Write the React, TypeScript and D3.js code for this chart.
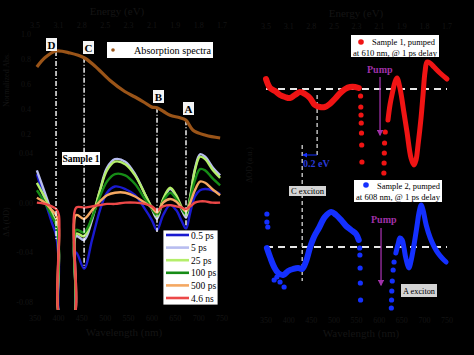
import React from 'react';
import * as d3 from 'd3';

const W = 474, H = 355;

// ---------- Left panel data ----------
const wlTicks = [350, 400, 450, 500, 550, 600, 650, 700, 750];
const evTickLabels = ['3.5', '3.1', '2.8', '2.5', '2.3', '2.1', '1.9', '1.8', '1.7'];
const absTicks = [0.2, 0.4, 0.6, 0.8, 1.0];
const daTicks = [0.04, 0.0, -0.04, -0.08];

const absWl = [354, 371, 395, 425, 455, 478, 510, 542, 564, 585, 600, 611, 625, 639, 660, 673, 688, 715, 746];
const absVal = [0.736, 0.81, 0.864, 0.848, 0.81, 0.744, 0.63, 0.54, 0.496, 0.45, 0.415, 0.41, 0.38, 0.35, 0.33, 0.31, 0.23, 0.19, 0.168];

const excitonLabels = ['D', 'C', 'B', 'A'];
const excitonWl = [395, 455, 611, 673];

const taWl = [354, 371, 386, 395, 401, 406, 431, 438, 455, 472, 489, 504, 521, 543, 564, 585, 600, 611, 624, 639, 652, 664, 673, 682, 692, 703, 714, 729, 746];
const delays = ['0.5 ps', '5 ps', '25 ps', '100 ps', '500 ps', '4.6 ns'];
const delayColors = ['#1a1ad0', '#b8bdf0', '#b4ee6a', '#168c16', '#f4a862', '#ec4848'];
const ta05 = [0.023, 0.002, -0.016, -0.026, -0.048, -0.095, -0.095, -0.040, -0.053, -0.030, -0.006, 0.008, 0.013, 0.011, 0.006, -0.005, -0.014, -0.022, -0.010, -0.002, -0.006, -0.015, -0.021, -0.008, 0.005, 0.010, 0.011, 0.010, 0.007];
const ta5 = [0.026, 0.008, -0.008, -0.017, -0.040, -0.095, -0.095, -0.027, -0.030, -0.014, 0.010, 0.028, 0.035, 0.033, 0.023, 0.007, -0.005, -0.013, 0.002, 0.011, 0.005, -0.006, -0.012, 0.004, 0.027, 0.039, 0.037, 0.029, 0.022];
const ta25 = [0.016, 0.004, -0.009, -0.017, -0.038, -0.095, -0.095, -0.025, -0.027, -0.012, 0.010, 0.026, 0.033, 0.031, 0.022, 0.007, -0.004, -0.011, 0.003, 0.012, 0.006, -0.004, -0.010, 0.005, 0.026, 0.037, 0.035, 0.027, 0.020];
const ta100 = [0.010, 0.000, -0.011, -0.018, -0.036, -0.095, -0.095, -0.022, -0.024, -0.012, 0.005, 0.017, 0.023, 0.022, 0.015, 0.003, -0.005, -0.010, 0.001, 0.008, 0.003, -0.005, -0.009, 0.003, 0.018, 0.027, 0.026, 0.020, 0.014];
const ta500 = [0.004, 0.000, -0.006, -0.010, -0.020, -0.095, -0.095, -0.010, -0.013, -0.006, 0.001, 0.006, 0.008, 0.008, 0.005, 0.000, -0.004, -0.008, 0.000, 0.003, 0.001, -0.004, -0.007, 0.000, 0.010, 0.017, 0.016, 0.011, 0.006];
const ta46 = [0.000, -0.001, -0.003, -0.005, -0.010, -0.095, -0.095, -0.004, -0.004, -0.003, -0.002, -0.001, -0.001, 0.000, 0.000, -0.001, -0.003, -0.006, -0.003, -0.002, -0.003, -0.004, -0.005, -0.003, 0.000, 0.001, 0.001, 0.000, 0.000];
const taSeries = [ta05, ta5, ta25, ta100, ta500, ta46];

// ---------- Right panel data ----------
const s1WlA = [350, 359, 370, 381, 392, 403, 414, 425, 436, 447, 458, 469, 480, 491, 502, 514, 525, 536, 547, 555];
const s1ValA = [0.20, 0.02, -0.04, -0.12, -0.16, -0.18, -0.12, -0.06, -0.10, -0.18, -0.32, -0.36, -0.36, -0.30, -0.20, -0.08, 0.00, 0.04, 0.04, 0.02];
const s1DropWl = [559, 559.5, 560, 560.5, 561, 561.5, 562];
const s1DropVal = [-0.14, -0.36, -0.52, -0.68, -0.88, -1.12, -1.46];
const s1RiseWl = [610.5, 611, 611.5, 612, 613.5];
const s1RiseVal = [-1.68, -1.48, -1.28, -1.08, -0.86];
const s1WlB = [619.6, 624, 630.7, 635, 639.5, 646, 655, 661.6, 670.5, 677, 681.5, 686, 692.6, 697, 701.4, 706, 712.4, 721.3, 734.5, 750];
const s1ValB = [-0.62, -0.32, -0.02, 0.14, 0.22, 0.02, -0.48, -0.86, -1.38, -1.52, -1.42, -1.12, -0.58, -0.12, 0.34, 0.54, 0.52, 0.44, 0.32, 0.20];

const s2ScatterWl = [352, 352, 354, 368, 390, 374, 381];
const s2ScatterVal = [0.66, 0.50, 0.40, -0.66, -0.80, -0.60, -0.70];
const s2WlA = [352, 359, 368, 377, 388, 399, 410, 421, 430, 438, 447, 456, 467, 480, 494, 505, 516, 527, 538, 549, 555];
const s2ValA = [-0.02, -0.20, -0.40, -0.52, -0.56, -0.48, -0.44, -0.42, -0.44, -0.30, -0.02, 0.20, 0.38, 0.60, 0.70, 0.64, 0.54, 0.42, 0.34, 0.26, 0.14];
const s2DropWl = [557, 557.5, 558, 558.5, 559];
const s2DropVal = [-0.02, -0.16, -0.42, -0.72, -1.06];
const s2RiseWl = [627, 627.5, 628, 629, 631, 633];
const s2RiseVal = [-1.22, -1.06, -0.88, -0.68, -0.46, -0.30];
const s2WlB = [637, 642, 646, 651, 655, 659, 666, 670, 677, 684, 688, 693, 697, 704, 713, 722, 730, 739, 748];
const s2ValB = [-0.12, 0.06, 0.18, 0.14, -0.02, -0.22, -0.42, -0.30, 0.04, 0.44, 0.68, 0.84, 0.74, 0.44, 0.18, 0.00, -0.12, -0.22, -0.30];

const pumpWl = 602;
const cExcWl = 430;
const cShiftWl = 463;

const FONT = 'Liberation Serif, Times New Roman, serif';
const DARK = '#141414';

export default function App() {
  const xL = d3.scaleLinear().domain([350, 750]).range([35, 222]);
  const yAbs = d3.scaleLinear().domain([0.2, 1.0]).range([134, 34]);
  const yDA = d3.scaleLinear().domain([-0.08, 0.04]).range([302, 153]);
  const xR = d3.scaleLinear().domain([350, 750]).range([266, 447]);
  const yR1 = d3.scaleLinear().domain([-1, 1]).range([139, 39]);
  const yR2 = d3.scaleLinear().domain([-1, 1]).range([297, 197]);

  const absLine = d3.line<number>().x((_, i) => xL(absWl[i])).y(d => yAbs(d)).curve(d3.curveCatmullRom);
  const taLine = d3.line<number>().x((_, i) => xL(taWl[i])).y(d => yDA(d)).curve(d3.curveCatmullRom);
  const mk = (wl: number[], y: d3.ScaleLinear<number, number>) =>
    d3.line<number>().x((_, i) => xR(wl[i])).y(d => y(d)).curve(d3.curveCatmullRom);

  const red = '#f01414';
  const blue = '#1430ff';
  const purple = '#a030a8';

  return (
    <svg width={W} height={H} style={{ position: 'absolute', left: 0, top: 0 }} fontFamily={FONT}>
      <defs>
        <clipPath id="clipTA"><rect x={30} y={140} width={196} height={170} /></clipPath>
        <marker id="arrP" viewBox="0 0 10 10" refX="8" refY="5" markerWidth="5" markerHeight="5" orient="auto">
          <path d="M0,0 L10,5 L0,10 z" fill={purple} />
        </marker>
        <marker id="arrB" viewBox="0 0 10 10" refX="8" refY="5" markerWidth="5" markerHeight="5" orient="auto">
          <path d="M0,0 L10,5 L0,10 z" fill={blue} />
        </marker>
      </defs>
      <rect x={0} y={0} width={W} height={H} fill="#000" />

      {/* ===== LEFT PANEL ===== */}
      <text x={117} y={15} fontSize={11} fill={DARK} textAnchor="middle">Energy (eV)</text>
      {wlTicks.map((w, i) => (
        <text key={'et' + i} x={xL(w)} y={28} fontSize={8} fill={DARK} textAnchor="middle">{evTickLabels[i]}</text>
      ))}
      {absTicks.map(t => (
        <text key={'at' + t} x={31} y={yAbs(t) + 3} fontSize={8} fill={DARK} textAnchor="end">{t.toFixed(1)}</text>
      ))}
      {daTicks.map(t => (
        <text key={'dt' + t} x={33} y={yDA(t) + 3} fontSize={8} fill={DARK} textAnchor="end">{t.toFixed(2)}</text>
      ))}
      <text transform="translate(9,80) rotate(-90)" fontSize={8} fill={DARK} textAnchor="middle">Normalized Abs.</text>
      <text transform="translate(9,222) rotate(-90)" fontSize={8} fill={DARK} textAnchor="middle">ΔA (OD)</text>
      {wlTicks.map(w => (
        <text key={'wt' + w} x={xL(w)} y={321} fontSize={8} fill={DARK} textAnchor="middle">{w}</text>
      ))}
      <text x={124} y={336} fontSize={11} fill={DARK} textAnchor="middle">Wavelength (nm)</text>

      <line x1={37} x2={222} y1={yDA(0)} y2={yDA(0)} stroke="#000" strokeWidth={1.5} />

      <g clipPath="url(#clipTA)">
        {taSeries.map((s, i) => (
          <path key={'ta' + i} d={taLine(s) || ''} fill="none" stroke={delayColors[i]} strokeWidth={2.4} strokeLinejoin="round" />
        ))}
      </g>

      {excitonWl.map((w, i) => {
        const y1 = yAbs(absVal[absWl.indexOf(w)] ?? 0.5);
        const ends = [240, 268, 232, 226];
        return (
          <line key={'ex' + i} x1={xL(w)} x2={xL(w)} y1={y1} y2={ends[i]} stroke="#fff" strokeWidth={1.4} strokeDasharray="5,2,1,2" />
        );
      })}

      <path d={absLine(absVal) || ''} fill="none" stroke="#9a5418" strokeWidth={3.2} strokeLinejoin="round" />

      {excitonLabels.map((l, i) => {
        const pos = [[46, 38], [83, 41], [153, 90], [183, 102]][i];
        return (
          <g key={'el' + l}>
            <rect x={pos[0]} y={pos[1]} width={11} height={13} fill="#f4f4f4" />
            <text x={pos[0] + 5.5} y={pos[1] + 10.5} fontSize={11} fontWeight="bold" fill="#000" textAnchor="middle">{l}</text>
          </g>
        );
      })}

      <rect x={107} y={42} width={106} height={16} fill="#fff" />
      <circle cx={113} cy={50} r={1.8} fill="#9a5418" />
      <text x={134} y={54} fontSize={10} fill="#000" textLength={77} lengthAdjust="spacingAndGlyphs">Absorption spectra</text>

      <rect x={62} y={152} width={38} height={13} fill="#fff" />
      <text x={81} y={162} fontSize={9.5} fontWeight="bold" fill="#000" textAnchor="middle">Sample 1</text>

      <rect x={163} y={230} width={55} height={75} fill="#fff" stroke="#000" strokeWidth={0.8} />
      {delays.map((d, i) => (
        <g key={'lg' + i}>
          <line x1={166} x2={189} y1={235 + i * 12.6} y2={235 + i * 12.6} stroke={delayColors[i]} strokeWidth={2.6} />
          <text x={191} y={238.5 + i * 12.6} fontSize={9.5} fill="#000">{d}</text>
        </g>
      ))}

      {/* ===== RIGHT PANEL ===== */}
      <text x={356} y={17} fontSize={11} fill={DARK} textAnchor="middle">Energy (eV)</text>
      {wlTicks.map((w, i) => (
        <text key={'ret' + i} x={xR(w)} y={29} fontSize={8} fill={DARK} textAnchor="middle">{evTickLabels[i]}</text>
      ))}
      {wlTicks.map(w => (
        <text key={'rwt' + w} x={xR(w)} y={323} fontSize={8} fill={DARK} textAnchor="middle">{w}</text>
      ))}
      <text x={361} y={337} fontSize={11} fill={DARK} textAnchor="middle">Wavelength (nm)</text>
      <text transform="translate(252,165) rotate(-90)" fontSize={8} fill={DARK} textAnchor="middle">ΔOD (a.u.)</text>

      <line x1={266} x2={447} y1={yR1(0)} y2={yR1(0)} stroke="#e6e6e6" strokeWidth={1.8} strokeDasharray="7,5" />
      <line x1={266} x2={447} y1={yR2(0)} y2={yR2(0)} stroke="#e6e6e6" strokeWidth={1.8} strokeDasharray="7,5" />

      <line x1={xR(cExcWl)} x2={xR(cExcWl)} y1={145} y2={281} stroke="#c8c8c8" strokeWidth={1.4} strokeDasharray="4,3" />
      <line x1={xR(cShiftWl)} x2={xR(cShiftWl)} y1={95} y2={158} stroke="#c8c8c8" strokeWidth={1.4} strokeDasharray="4,3" />
      <line x1={xR(cShiftWl)} x2={xR(cExcWl) + 1} y1={155} y2={155} stroke={blue} strokeWidth={1} markerEnd="url(#arrB)" />
      <text x={303} y={167} fontSize={10} fontWeight="bold" fill="#2a3ad8">0.2 eV</text>

      <path d={mk(s1WlA, yR1)(s1ValA) || ''} fill="none" stroke={red} strokeWidth={6} strokeLinejoin="round" strokeLinecap="round" />
      <path d={mk(s1WlB, yR1)(s1ValB) || ''} fill="none" stroke={red} strokeWidth={5} strokeLinejoin="round" strokeLinecap="round" />
      {s1DropWl.map((w, i) => <circle key={'s1d' + i} cx={xR(w)} cy={yR1(s1DropVal[i])} r={2.6} fill={red} />)}
      {s1RiseWl.map((w, i) => <circle key={'s1r' + i} cx={xR(w)} cy={yR1(s1RiseVal[i])} r={2.6} fill={red} />)}

      <path d={mk(s2WlA, yR2)(s2ValA) || ''} fill="none" stroke={blue} strokeWidth={6} strokeLinejoin="round" strokeLinecap="round" />
      <path d={mk(s2WlB, yR2)(s2ValB) || ''} fill="none" stroke={blue} strokeWidth={5} strokeLinejoin="round" strokeLinecap="round" />
      {s2ScatterWl.map((w, i) => <circle key={'s2s' + i} cx={xR(w)} cy={yR2(s2ScatterVal[i])} r={2.6} fill={blue} />)}
      {s2DropWl.map((w, i) => <circle key={'s2d' + i} cx={xR(w)} cy={yR2(s2DropVal[i])} r={2.6} fill={blue} />)}
      {s2RiseWl.map((w, i) => <circle key={'s2r' + i} cx={xR(w)} cy={yR2(s2RiseVal[i])} r={2.6} fill={blue} />)}

      <text x={367} y={73} fontSize={10} fontWeight="bold" fill={purple}>Pump</text>
      <line x1={xR(pumpWl)} x2={xR(pumpWl)} y1={77} y2={135} stroke={purple} strokeWidth={1.3} markerEnd="url(#arrP)" />
      <text x={371} y={223} fontSize={10} fontWeight="bold" fill={purple}>Pump</text>
      <line x1={xR(pumpWl) + 1} x2={xR(pumpWl) + 1} y1={228} y2={285} stroke={purple} strokeWidth={1.3} markerEnd="url(#arrP)" />

      <rect x={289} y={186} width={37} height={10} fill="#d4d4d4" />
      <text x={291} y={194} fontSize={9} fill="#000" textLength={33} lengthAdjust="spacingAndGlyphs">C exciton</text>
      <rect x={401} y={284} width={36} height={13} fill="#d4d4d4" />
      <text x={403} y={293.5} fontSize={9} fill="#000" textLength={32} lengthAdjust="spacingAndGlyphs">A exciton</text>

      <rect x={351} y={35} width={88} height={22} fill="#fff" />
      <circle cx={361} cy={42} r={2.8} fill={red} />
      <text x={372} y={45} fontSize={8.5} fill="#000" textLength={63} lengthAdjust="spacingAndGlyphs">Sample 1, pumped</text>
      <text x={353} y={55.5} fontSize={8.5} fill="#000" textLength={84} lengthAdjust="spacingAndGlyphs">at 610 nm, @ 1 ps delay</text>

      <rect x={354} y={180} width={88} height={22} fill="#fff" />
      <circle cx={366} cy={185} r={2.8} fill={blue} />
      <text x={377} y={188.5} fontSize={8.5} fill="#000" textLength={63} lengthAdjust="spacingAndGlyphs">Sample 2, pumped</text>
      <text x={356} y={199.5} fontSize={8.5} fill="#000" textLength={84} lengthAdjust="spacingAndGlyphs">at 608 nm, @ 1 ps delay</text>
    </svg>
  );
}
